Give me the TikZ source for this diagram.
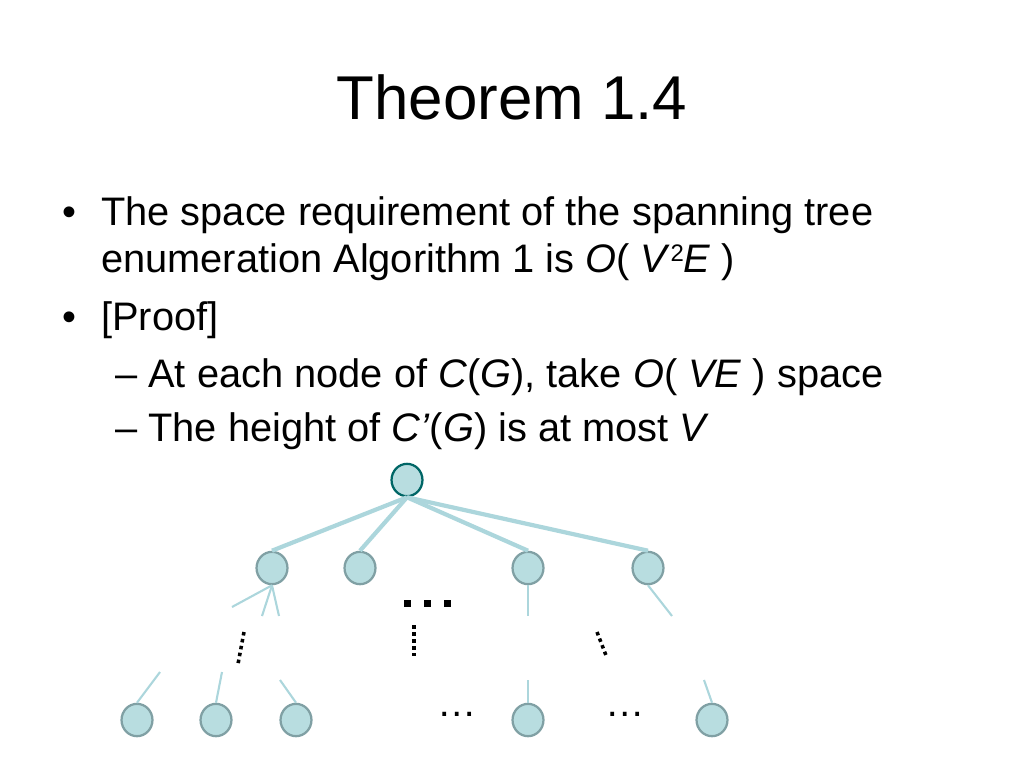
\documentclass[tikz,border=0pt]{standalone}
\usepackage{fontspec}
\setmainfont{Liberation Sans}
\usetikzlibrary{shapes.geometric}
\definecolor{nodefill}{RGB}{184,221,224}
\definecolor{nodeline}{RGB}{128,160,164}
\definecolor{edgecol}{RGB}{172,214,220}
\tikzset{
  vert/.style={ellipse, draw=nodeline, line width=1.6pt, fill=nodefill, minimum width=22pt, minimum height=23pt, inner sep=0pt},
  edge/.style={draw=edgecol, line width=3pt},
  stub/.style={draw=edgecol, line width=1.5pt},
  txt/.style={anchor=base west, font=\fontsize{28.3}{32}\selectfont, inner sep=0pt},
  vdots/.style={line width=2.5pt, dash pattern=on 2.5pt off 2.5pt}
}
\begin{document}
\begin{tikzpicture}[x=0.025cm,y=-0.025cm]
\useasboundingbox (0,0) rectangle (1024,768);
\node (title) at (512,97) {\fontsize{44}{48}\selectfont Theorem 1.4};
% bullets
\node[txt] (b1) at (62,225) {•};
\node[txt] (l1) at (101,225) {The space requirement of the spanning tree};
\node[txt] (l2) at (101,272) {enumeration Algorithm 1 is \textit{O}( \textit{V}\raisebox{0.5ex}{\fontsize{17}{17}\selectfont 2}\textit{E} )};
\node[txt] (b2) at (62,330) {•};
\node[txt] (l3) at (101,330) {[Proof]};
\node[txt] (l4) at (115,387) {– At each node of \textit{C}(\textit{G}), take \textit{O}( \textit{VE} ) space};
\node[txt] (l5) at (115,441) {– The height of \textit{C’}(\textit{G}) is at most \textit{V}};
% tree
\node[vert, draw=teal!80!black] (r) at (407,480) {};
\foreach \n/\x in {a/272,b/360,c/528,d/648} \node[vert] (\n) at (\x,568) {};
\foreach \n/\x in {p/137,q/216,s/296,t/528,u/712} \node[vert] (\n) at (\x,720) {};
\foreach \n in {a,b,c,d} \draw[edge] (r.south) -- (\n.north);
\draw[stub] (a.south) -- (232,607);
\draw[stub] (a.south) -- (262,616);
\draw[stub] (a.south) -- (279,616);
\draw[stub] (c.south) -- (528,616);
\draw[stub] (d.south) -- (672,616);
\draw[stub] (p.north) -- (160,672);
\draw[stub] (q.north) -- (222,672);
\draw[stub] (s.north) -- (280,680);
\draw[stub] (t.north) -- (528,680);
\draw[stub] (u.north) -- (704,680);
\draw[vdots] (244,632) -- (238,664);
\draw[vdots] (414,625) -- (414,656);
\draw[vdots] (597,632) -- (607,658);
\foreach \x in {407,427,447} \fill (\x-3.5,600) rectangle (\x+3.5,607);
\node (e1) at (457,714) {\fontsize{28}{30}\selectfont …};
\node (e2) at (625,714) {\fontsize{28}{30}\selectfont …};
\end{tikzpicture}
\end{document}
